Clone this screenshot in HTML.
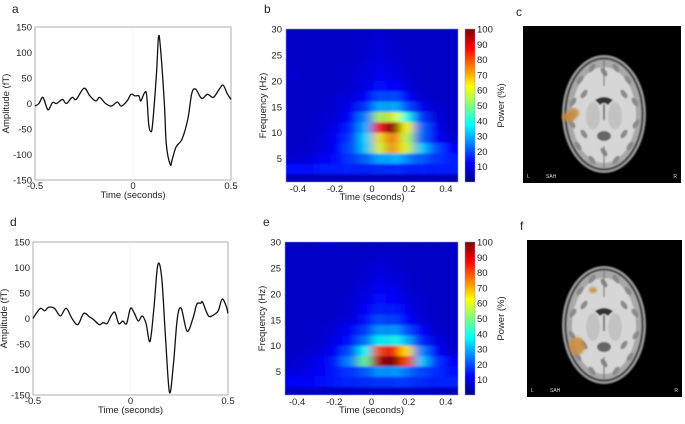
<!DOCTYPE html>
<html><head><meta charset="utf-8"><style>
html,body{margin:0;padding:0;background:#fff;}
svg text{font-family:"Liberation Sans",sans-serif;fill:#222;}
</style></head><body>
<svg id="fig" width="685" height="419" viewBox="0 0 685 419" xmlns="http://www.w3.org/2000/svg">
<defs>
<filter id="hblur" x="-5%" y="-5%" width="110%" height="110%"><feGaussianBlur stdDeviation="5 1.2"/></filter>
<filter id="sblur"><feGaussianBlur stdDeviation="1.2"/></filter>
<filter id="bblur"><feGaussianBlur stdDeviation="0.9"/></filter>
<linearGradient id="jet" x1="0" y1="1" x2="0" y2="0">
<stop offset="0" stop-color="#00007f"/><stop offset="0.125" stop-color="#0000ff"/><stop offset="0.375" stop-color="#00ffff"/><stop offset="0.625" stop-color="#ffff00"/><stop offset="0.875" stop-color="#ff0000"/><stop offset="1" stop-color="#7f0000"/>
</linearGradient>
<clipPath id="clipB"><rect x="286" y="29" width="172" height="153"/></clipPath>
<clipPath id="clipE"><rect x="285" y="242" width="173" height="153"/></clipPath>
</defs>
<g id="root"></g>
</svg>
<script>
// ---------- waveform data ----------
const timesA=[-0.5,-0.48,-0.46,-0.44,-0.43,-0.41,-0.39,-0.36,-0.34,-0.31,-0.29,-0.25,-0.22,-0.19,-0.17,-0.14,-0.11,-0.08,-0.06,-0.03,-0.01,0.01,0.03,0.04,0.06,0.07,0.08,0.09,0.10,0.12,0.13,0.14,0.16,0.17,0.19,0.20,0.22,0.25,0.28,0.30,0.32,0.35,0.38,0.41,0.44,0.46,0.48,0.5];
const ampsA=[-5,0,12,-8,-12,2,0,8,0,12,8,30,15,5,12,0,-5,3,-5,5,18,15,15,5,22,15,-40,-55,-40,60,130,110,0,-80,-120,-110,-85,-70,-30,20,28,10,18,12,28,36,20,8];
const timesD=[-0.5,-0.48,-0.46,-0.44,-0.42,-0.39,-0.36,-0.33,-0.30,-0.27,-0.24,-0.21,-0.19,-0.16,-0.14,-0.12,-0.10,-0.08,-0.06,-0.04,-0.02,0.00,0.02,0.04,0.06,0.08,0.10,0.12,0.14,0.16,0.18,0.20,0.22,0.24,0.26,0.29,0.32,0.34,0.36,0.37,0.40,0.43,0.45,0.47,0.49,0.5];
const ampsD=[0,12,20,15,22,20,5,20,0,-12,10,3,-2,-12,-8,-10,5,12,-10,-5,-10,20,10,-5,5,-10,-45,20,105,80,-40,-145,-90,0,20,-25,0,28,30,32,5,8,15,38,25,10];
const waveXTicks=[-0.5,0,0.5];
const waveYTicks=[150,100,50,0,-50,-100,-150];
// ---------- time-frequency data ----------
const tfTimes=[-0.42,-0.35,-0.27,-0.19,-0.12,-0.04,0.04,0.12,0.19,0.27,0.35,0.42];
const tfFreqs=[29,27,25,23,21,19,17,15,13,11,9,7,5,3,1];
const powerB=[
[7,7,7,7,7,7,8,7,7,7,7,7],
[7,7,7,7,7,8,9,8,7,7,7,7],
[7,7,7,7,7,8,9,8,7,7,7,7],
[7,7,7,7,7,9,10,9,7,7,7,7],
[8,7,7,7,8,9,11,10,8,7,7,7],
[7,7,7,7,8,10,14,13,9,7,7,7],
[7,7,7,8,9,13,20,20,13,8,7,7],
[7,7,7,8,11,18,30,30,20,11,8,7],
[7,7,8,9,13,26,55,60,40,18,9,7],
[7,7,8,11,16,30,85,100,62,23,11,7],
[7,7,9,12,18,34,65,75,55,23,12,8],
[7,8,9,13,20,33,60,72,58,33,20,13],
[8,9,12,14,18,23,30,31,26,22,18,15],
[14,14,15,15,16,16,17,17,16,16,15,15],
[5,5,5,5,5,5,5,5,5,5,5,5]];
const powerE=[
[7,7,7,7,7,7,7,7,7,7,7,7],
[7,7,7,7,7,7,8,7,7,7,7,7],
[7,7,7,7,7,8,9,8,7,7,7,7],
[7,7,7,7,7,8,10,9,8,7,7,7],
[7,7,7,7,7,9,12,11,8,7,7,7],
[7,7,7,7,8,10,14,13,9,8,7,7],
[7,7,7,7,8,12,16,15,11,8,7,7],
[7,7,7,8,9,14,20,19,13,9,7,7],
[7,7,8,9,12,18,28,28,20,13,8,7],
[7,7,8,11,14,24,38,40,30,16,10,7],
[7,8,9,13,20,38,80,85,65,26,13,8],
[8,9,12,16,26,48,95,100,80,33,18,12],
[9,10,13,15,18,22,28,28,24,20,17,14],
[12,13,14,15,16,17,18,18,18,17,16,16],
[6,6,6,6,6,6,6,6,6,6,6,6]];
const tfXTicks=[-0.4,-0.2,0,0.2,0.4];
const tfYTicks=[30,25,20,15,10,5];
const cbTicks=[100,90,80,70,60,50,40,30,20,10];

const NS="http://www.w3.org/2000/svg";
const root=document.getElementById('root');
function el(tag,attrs,parent){const e=document.createElementNS(NS,tag);for(const k in attrs)e.setAttribute(k,attrs[k]);(parent||root).appendChild(e);return e;}
function txt(x,y,s,size,anchor,parent,rot){const t=el('text',{x:x,y:y,'font-size':size,'text-anchor':anchor||'middle'},parent);if(rot)t.setAttribute('transform','rotate(-90 '+x+' '+y+')');t.textContent=s;return t;}

function jet(v){v=Math.max(0,Math.min(1,v/100));
 const r=Math.max(0,Math.min(1,1.5-Math.abs(4*v-3))),g=Math.max(0,Math.min(1,1.5-Math.abs(4*v-2))),b=Math.max(0,Math.min(1,1.5-Math.abs(4*v-1)));
 return 'rgb('+Math.round(r*255)+','+Math.round(g*255)+','+Math.round(b*255)+')';}

function wavePanel(letter,L,R,T,B,times,amps,ly){
 const g=el('g',{});
 
 
 const xs=t=>L+(t+0.5)/1*(R-L), ys=v=>T+(150-v)/300*(B-T);
 const lab=txt(L-23,ly,letter,12,'start',g);
 
 
 const frame=el('rect',{x:L,y:T,width:R-L,height:B-T,fill:'#fff',stroke:'#999','stroke-width':0.8},g);
 
 
 const zl=el('line',{x1:xs(0),x2:xs(0),y1:T,y2:B,stroke:'#eee','stroke-width':0.6},g);
 
 
 waveYTicks.forEach(v=>{const t=txt(L-3,ys(v)+3.5,String(v),9.5,'end',g);
  
  });
 waveXTicks.forEach(v=>{const t=txt(xs(v),B+9,String(v),9.5,'middle',g);
  
  });
 const xt=txt((L+R)/2,B+18,'Time (seconds)',9.5,'middle',g);
 
 
 const yt=txt(L-26,(T+B)/2,'Amplitude (fT)',9.5,'middle',g,true);
 
 
 const P=times.map((t,i)=>[xs(t),ys(amps[i])]);
 let d='M'+P[0][0]+','+P[0][1];
 for(let i=0;i<P.length-1;i++){const p0=P[Math.max(0,i-1)],p1=P[i],p2=P[i+1],p3=P[Math.min(P.length-1,i+2)];
  d+=' C'+(p1[0]+(p2[0]-p0[0])/6)+','+(p1[1]+(p2[1]-p0[1])/6)+' '+(p2[0]-(p3[0]-p1[0])/6)+','+(p2[1]-(p3[1]-p1[1])/6)+' '+p2[0]+','+p2[1];}
 const line=el('path',{d:d,fill:'none',stroke:'#111','stroke-width':1.3},g);
 
 
}

function tfPanel(letter,L,R,T,B,power,clip){
 const g=el('g',{});
 
 
 const t0=-0.465,t1=0.465,f0=0.5,f1=30;
 const xs=t=>L+(t-t0)/(t1-t0)*(R-L), ys=f=>T+(f1-f)/(f1-f0)*(B-T);
 const lab=txt(L-22,T-16,letter,12,'start',g);
 
 
 const cg=el('g',{'clip-path':'url(#'+clip+')'},g);
 const bg=el('rect',{x:L,y:T,width:R-L,height:B-T,fill:jet(7)},cg);
 
 
 const hg=el('g',{filter:'url(#hblur)'},cg);
 const dt=tfTimes[1]-tfTimes[0], df=2;
 tfFreqs.forEach((f,i)=>tfTimes.forEach((t,j)=>{
  const c=el('rect',{x:xs(t-dt/2)-(j==0?10:0),y:ys(f+df/2),width:xs(t+dt/2)-xs(t-dt/2)+(j==0||j==tfTimes.length-1?10:0)+0.5,height:ys(f-df/2)-ys(f+df/2)+0.5,fill:jet(power[i][j])},hg);
  
  
 }));
 const fr=el('rect',{x:L,y:T,width:R-L,height:B-T,fill:'none',stroke:'#8899cc','stroke-width':0.6},g);
 
 
 tfYTicks.forEach(v=>{const t=txt(L-4,ys(v)+3.5,String(v),9.5,'end',g);
  
  });
 tfXTicks.forEach(v=>{const t=txt(xs(v),B+10,String(v),9.5,'middle',g);
  
  });
 const xt=txt((L+R)/2,B+18,'Time (seconds)',9.5,'middle',g);
 
 
 const yt=txt(L-20,(T+B)/2,'Frequency (Hz)',9.5,'middle',g,true);
 
 
 const cx=R+7,cw=10;
 const cb=el('rect',{x:cx,y:T,width:cw,height:B-T,fill:'url(#jet)',stroke:'#8899cc','stroke-width':0.5},g);
 
 
 const cy=v=>B-(v/100)*(B-T);
 cbTicks.forEach(v=>{const t=txt(cx+cw+2,cy(v)+3.5,String(v),9.5,'start',g);
  
  });
 const ct=txt(cx+cw+29,(T+B)/2,'Power (%)',9.5,'middle',g,true);
 
 
}

function brainPanel(letter,L,T,W,H,cx,cy,blobs){
 const g=el('g',{});
 
 
 const lab=txt(L-7,T-10,letter,12,'start',g);
 
 
 const bk=el('rect',{x:L,y:T,width:W,height:H,fill:'#000'},g);
 
 
 const hb=el('g',{filter:'url(#bblur)'},g);
 
 
 el('ellipse',{cx:cx,cy:cy,rx:42,ry:59,fill:'#9a9a9a'},hb);
 el('ellipse',{cx:cx,cy:cy,rx:39.5,ry:56.5,fill:'#333'},hb);
 el('ellipse',{cx:cx,cy:cy,rx:37.5,ry:54.5,fill:'#a8a8a8'},hb);
 el('ellipse',{cx:cx,cy:cy+1,rx:32,ry:48,fill:'#d6d6d6'},hb);
 const spots=[[-24,-34],[24,-34],[-31,-12],[31,-12],[-32,10],[32,10],[-26,32],[26,32],[-12,-46],[12,-46],[-12,46],[12,46],[-20,-20],[20,-20],[-20,20],[20,20],[0,-42],[0,38]];
 spots.forEach(p=>el('ellipse',{cx:cx+p[0],cy:cy+p[1],rx:2.5,ry:5,fill:'#8a8a8a',transform:'rotate('+(p[0]*p[1]>0?35:-35)+' '+(cx+p[0])+' '+(cy+p[1])+')'},hb));
 el('ellipse',{cx:cx-11,cy:cy+2,rx:7,ry:14,fill:'#c2c2c2'},hb);
 el('ellipse',{cx:cx+11,cy:cy+2,rx:7,ry:14,fill:'#c2c2c2'},hb);
 el('path',{d:'M'+(cx-9)+','+(cy-14)+' Q'+cx+','+(cy-20)+' '+(cx+9)+','+(cy-14)+' L'+(cx+4)+','+(cy-9)+' Q'+cx+','+(cy-13)+' '+(cx-4)+','+(cy-9)+'Z',fill:'#333'},hb);
 el('line',{x1:cx,y1:cy-10,x2:cx,y2:cy+6,stroke:'#555','stroke-width':1.5},hb);
 el('ellipse',{cx:cx,cy:cy+22,rx:7,ry:5,fill:'#666'},hb);
 el('line',{x1:cx,y1:cy-54,x2:cx,y2:cy-28,stroke:'#777','stroke-width':1.2},hb);
 el('line',{x1:cx,y1:cy+32,x2:cx,y2:cy+54,stroke:'#777','stroke-width':1.2},hb);
 const og=el('g',{filter:'url(#sblur)'},g);
 blobs.forEach(b=>{const o=el('ellipse',{cx:b[0],cy:b[1],rx:b[2],ry:b[3],fill:'#c98a3a',opacity:0.85},og);
  
  });
 [['L',L+4,'start'],['SAH',L+23,'start'],['R',L+W-4,'end']].forEach(a=>{
  const t=el('text',{x:a[1],y:T+H-5,'font-size':5,'text-anchor':a[2],style:'fill:#ddd'},g);t.textContent=a[0];
  
  });
}

wavePanel('a',35,231,27,180,timesA,ampsA,13);
wavePanel('d',33,228,242,395,timesD,ampsD,226);
tfPanel('b',286,458,29,182,powerB,'clipB');
tfPanel('e',285,458,242,395,powerE,'clipE');
brainPanel('c',523,26,158,157,604,114,[[569,117,7,5],[574,113,5,5]]);
brainPanel('f',527,240,155,157,604,325,[[577,346,8,9],[593,290,4,3]]);
</script>
</body></html>
